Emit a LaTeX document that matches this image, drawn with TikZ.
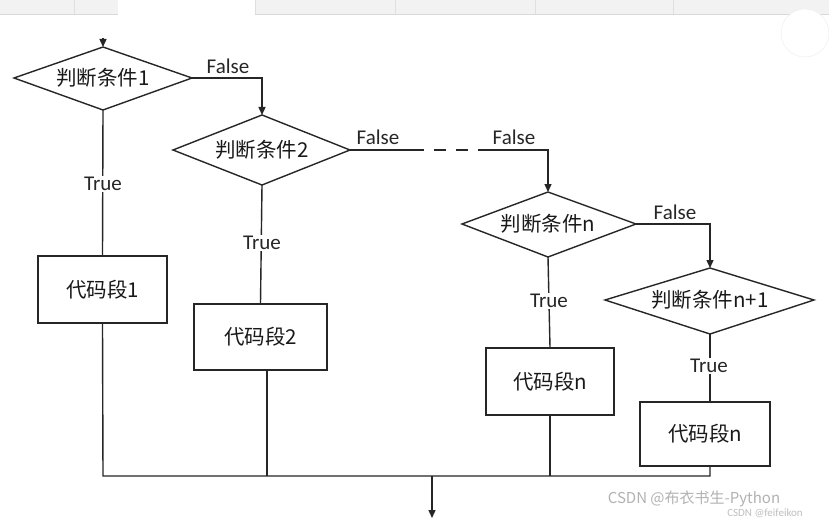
\documentclass[tikz,border=0pt]{standalone}
\usepackage{fontspec}
\setmainfont{Carlito}
\newfontfamily\cjk{Noto Sans CJK SC}
\usetikzlibrary{shapes.geometric,arrows.meta}
\begin{document}
\begin{tikzpicture}[x=1pt,y=-1pt,
  ln/.style={draw=black!85,line width=1.4pt},
  arr/.style={ln,-{Triangle[length=8pt,width=7pt]}},
  code/.style={ln,fill=white,inner sep=0pt},
  lbl/.style={font=\fontsize{21}{22}\selectfont,text=black!85,inner sep=1pt},
  ctext/.style={font=\cjk\fontsize{20.5}{22}\selectfont,text=black!90}]
\useasboundingbox (0,0) rectangle (829,524);
\fill[white] (0,0) rectangle (829,524);
% browser bar
\fill[gray!10] (0,0) rectangle (829,14);
\fill[white] (118,0) rectangle (255,14);
\draw[gray!30] (0,14) -- (118,14) (255,14) -- (829,14);
\foreach \x in {74,255,395,535,673} \draw[gray!25] (\x,0) -- (\x,14);
\fill[white,draw=gray!15] (805,33) circle (24);
% diamonds
\path[ln,fill=white] (14,78) -- (103,47) -- (192,78) -- (103,110) -- cycle;
\node[ctext] (t1) at (103,78) {判断条件1};
\path[ln,fill=white] (173,150) -- (262,115) -- (350,150) -- (262,185) -- cycle;
\node[ctext] (t2) at (262,150) {判断条件2};
\path[ln,fill=white] (462,224) -- (548,192) -- (636,224) -- (548,257) -- cycle;
\node[ctext] (tn) at (548,224) {判断条件n};
\path[ln,fill=white] (605,300) -- (710,268) -- (814,300) -- (710,334) -- cycle;
\node[ctext] (tm) at (710,300) {判断条件n+1};
\coordinate (d1t) at (103,47); \coordinate (d1r) at (192,78); \coordinate (d1b) at (103,110);
\coordinate (d2t) at (262,115); \coordinate (d2r) at (350,150); \coordinate (d2b) at (262,185);
\coordinate (dnt) at (548,192); \coordinate (dnr) at (636,224); \coordinate (dnb) at (548,257);
\coordinate (dmt) at (710,268); \coordinate (dmb) at (710,334);
% boxes
\node[code,minimum width=129,minimum height=67,ctext] (b1) at (102.5,289.5) {代码段1};
\node[code,minimum width=133,minimum height=66,ctext] (b2) at (260.5,337) {代码段2};
\node[code,minimum width=128,minimum height=67,ctext] (bn) at (550,381.5) {代码段n};
\node[code,minimum width=130,minimum height=64,ctext] (bm) at (705,434) {代码段n};
% connectors
\coordinate (top) at (103,38);
\draw[arr] (top) -- (d1t);
\draw[arr] (d1r) -| (d2t);
\draw[ln] (d2r) -- (412,150);
\draw[ln,dashed,dash pattern=on 12pt off 10pt] (412,150) -- (488,150);
\draw[arr] (488,150) -| (dnt);
\draw[arr] (dnr) -| (dmt);
\draw[ln] (d1b) -- (b1.north);
\draw[ln] (d2b) -- (b2.north);
\draw[ln] (dnb) -- (bn.north);
\draw[ln] (dmb) -- (710,402);
\coordinate (bl) at (103,476); \coordinate (br) at (710,476);
\draw[ln] (b1.south) -- (bl) -- (br) -- (710,466);
\draw[ln] (267,370) -- (267,476);
\draw[ln] (550,415) -- (550,476);
\coordinate (out) at (432,518);
\draw[arr] (432,476) -- (out);
% labels
\node[lbl,fill=white] (l1) at (103,184) {True};
\node[lbl,fill=white] (l2) at (262,243) {True};
\node[lbl,fill=white] (l3) at (549,301) {True};
\node[lbl,fill=white] (l4) at (709,366) {True};
\node[lbl] (f1) at (228,66) {False};
\node[lbl] (f2) at (378,137) {False};
\node[lbl] (f3) at (514,137) {False};
\node[lbl] (f4) at (675,212) {False};
% watermark
\node[text=gray!60,font=\fontsize{15}{16}\selectfont\cjk] (wm) at (694,499) {CSDN @布衣书生-Python};
\node[text=gray!50,font=\fontsize{11}{12}\selectfont] (wm2) at (765,513) {CSDN @feifeikon};
\end{tikzpicture}
\end{document}
